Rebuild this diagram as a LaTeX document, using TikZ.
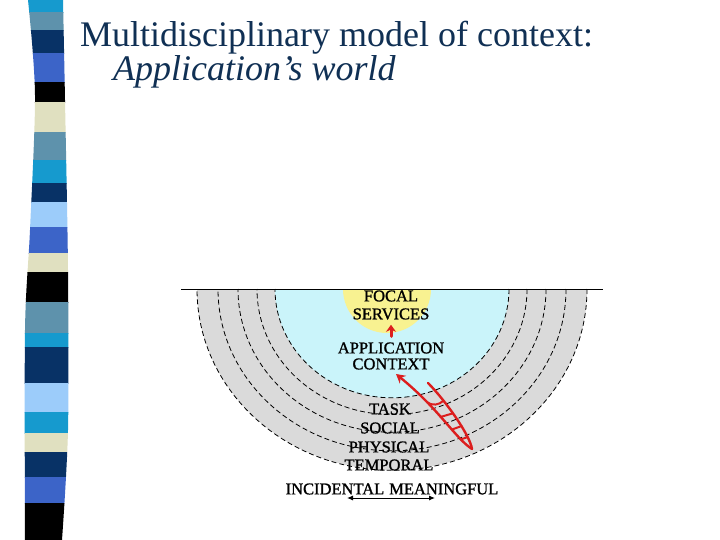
\documentclass[tikz,border=0pt]{standalone}
\usepackage{fontspec}
\setmainfont{Liberation Serif}
\newfontfamily\lblfont[FakeBold=1.2]{Liberation Serif}
\usetikzlibrary{arrows.meta}
\definecolor{titleblue}{RGB}{16,48,84}
\definecolor{stripcyan}{RGB}{22,154,206}
\definecolor{stripsteel}{RGB}{94,146,172}
\definecolor{stripnavy}{RGB}{8,50,102}
\definecolor{stripblue}{RGB}{60,100,200}
\definecolor{stripbeige}{RGB}{224,224,192}
\definecolor{stripsky}{RGB}{156,204,250}
\definecolor{ringgray}{RGB}{218,218,218}
\definecolor{ctxblue}{RGB}{202,244,250}
\definecolor{focalyellow}{RGB}{248,242,145}
\definecolor{arrowred}{RGB}{220,30,30}
\tikzset{
  ring/.style={black,line width=0.8pt,dash pattern=on 5pt off 3pt},
  lbl/.style={inner sep=0pt,font=\lblfont\fontsize{16.5}{18}\selectfont},
  redline/.style={draw=arrowred,line width=2.4pt,line cap=round},
}
\begin{document}
\begin{tikzpicture}[x=1pt,y=1pt]
\useasboundingbox (0,0) rectangle (720,-540);
\fill[white] (0,0) rectangle (720,-540);
\begin{scope}
\clip plot[smooth] coordinates {(28,0) (35,-95) (30,-230) (25,-330) (25,-540)} -- plot[smooth] coordinates {(62,-540) (68,-430) (68,-270) (65,-100) (63,0)} -- cycle;
\foreach \ytop/\ybot/\col in {0/12/stripcyan,12/30/stripsteel,30/53/stripnavy,53/82/stripblue,82/102/black,102/132/stripbeige,132/160/stripsteel,160/183/stripcyan,183/202/stripnavy,202/227/stripsky,227/253/stripblue,253/272/stripbeige,272/302/black,302/333/stripsteel,333/347/stripcyan,347/383/stripnavy,383/412/stripsky,412/433/stripcyan,433/452/stripbeige,452/477/stripnavy,477/503/stripblue,503/541/black}
  \fill[\col] (20,-\ytop) rectangle (75,-\ybot-0.6);
\end{scope}
\node[anchor=base west,inner sep=0pt,text=titleblue,font=\fontsize{36}{40}\selectfont] (title) at (80,-47) {Multidisciplinary model of context:};
\node[anchor=base west,inner sep=0pt,text=titleblue,font=\fontsize{36}{40}\selectfont\itshape] (subtitle) at (113,-81) {Application’s world};
\fill[ringgray] (587,-289) arc[start angle=0,end angle=-180,x radius=195,y radius=181] -- cycle;
\fill[ctxblue] (509,-289) arc[start angle=0,end angle=-180,x radius=117,y radius=109] -- cycle;
\fill[focalyellow] (431,-289) arc[start angle=0,end angle=-180,radius=44] -- cycle;
\foreach \r in {117,135,154,174,195}
  \draw[ring] ({392+\r},-289) arc[start angle=0,end angle=-180,x radius=\r,y radius={0.93*\r}];
\draw[black,line width=1pt] (181,-289) -- (603,-289);
\node[lbl] (focal) at (391,-296) {FOCAL};
\node[lbl] (serv) at (391,-314) {SERVICES};
\node[lbl] (app) at (391,-348) {APPLICATION};
\node[lbl] (ctx) at (391,-364) {CONTEXT};
\node[lbl] (task) at (390,-409) {TASK};
\node[lbl] (social) at (390,-428) {SOCIAL};
\node[lbl] (phys) at (389,-447) {PHYSICAL};
\node[lbl] (temp) at (389,-465) {TEMPORAL};
\node[lbl] (inc) at (392,-489) {INCIDENTAL\hspace{5pt}MEANINGFUL};
\draw[redline,line width=3pt,-{Stealth[length=7pt,width=10pt]}] ([yshift=6pt]app.north) -- ([yshift=-5pt]serv.south);
\coordinate (ladbot) at (472,-449);
\coordinate (ladtop) at (428,-383);
\coordinate (arrtip) at (396,-374);
\draw[redline,-{Stealth[length=9pt,width=10pt]}] (ladbot) .. controls (455,-438) and (440,-410) .. (arrtip);
\draw[redline] (ladbot) .. controls (470,-435) and (445,-400) .. (ladtop);
\path (ladbot) .. controls (455,-438) and (440,-410) .. (arrtip)
  coordinate[pos=0.22] (l1) coordinate[pos=0.38] (l2) coordinate[pos=0.55] (l3) coordinate[pos=0.72] (l4);
\path (ladbot) .. controls (470,-435) and (445,-400) .. (ladtop)
  coordinate[pos=0.22] (r1) coordinate[pos=0.38] (r2) coordinate[pos=0.55] (r3) coordinate[pos=0.72] (r4);
\foreach \i in {1,2,3}
  \draw[redline,line width=2pt] (l\i) -- (r\i);
\draw[redline,line width=2pt] (l4) to[bend right=40] (r4);
\coordinate (spanl) at (347,-498);
\coordinate (spanr) at (435,-498);
\draw[black,line width=1pt,{Latex[length=6pt,width=5pt]}-{Latex[length=6pt,width=5pt]}] (spanl) -- (spanr);
\end{tikzpicture}
\end{document}
